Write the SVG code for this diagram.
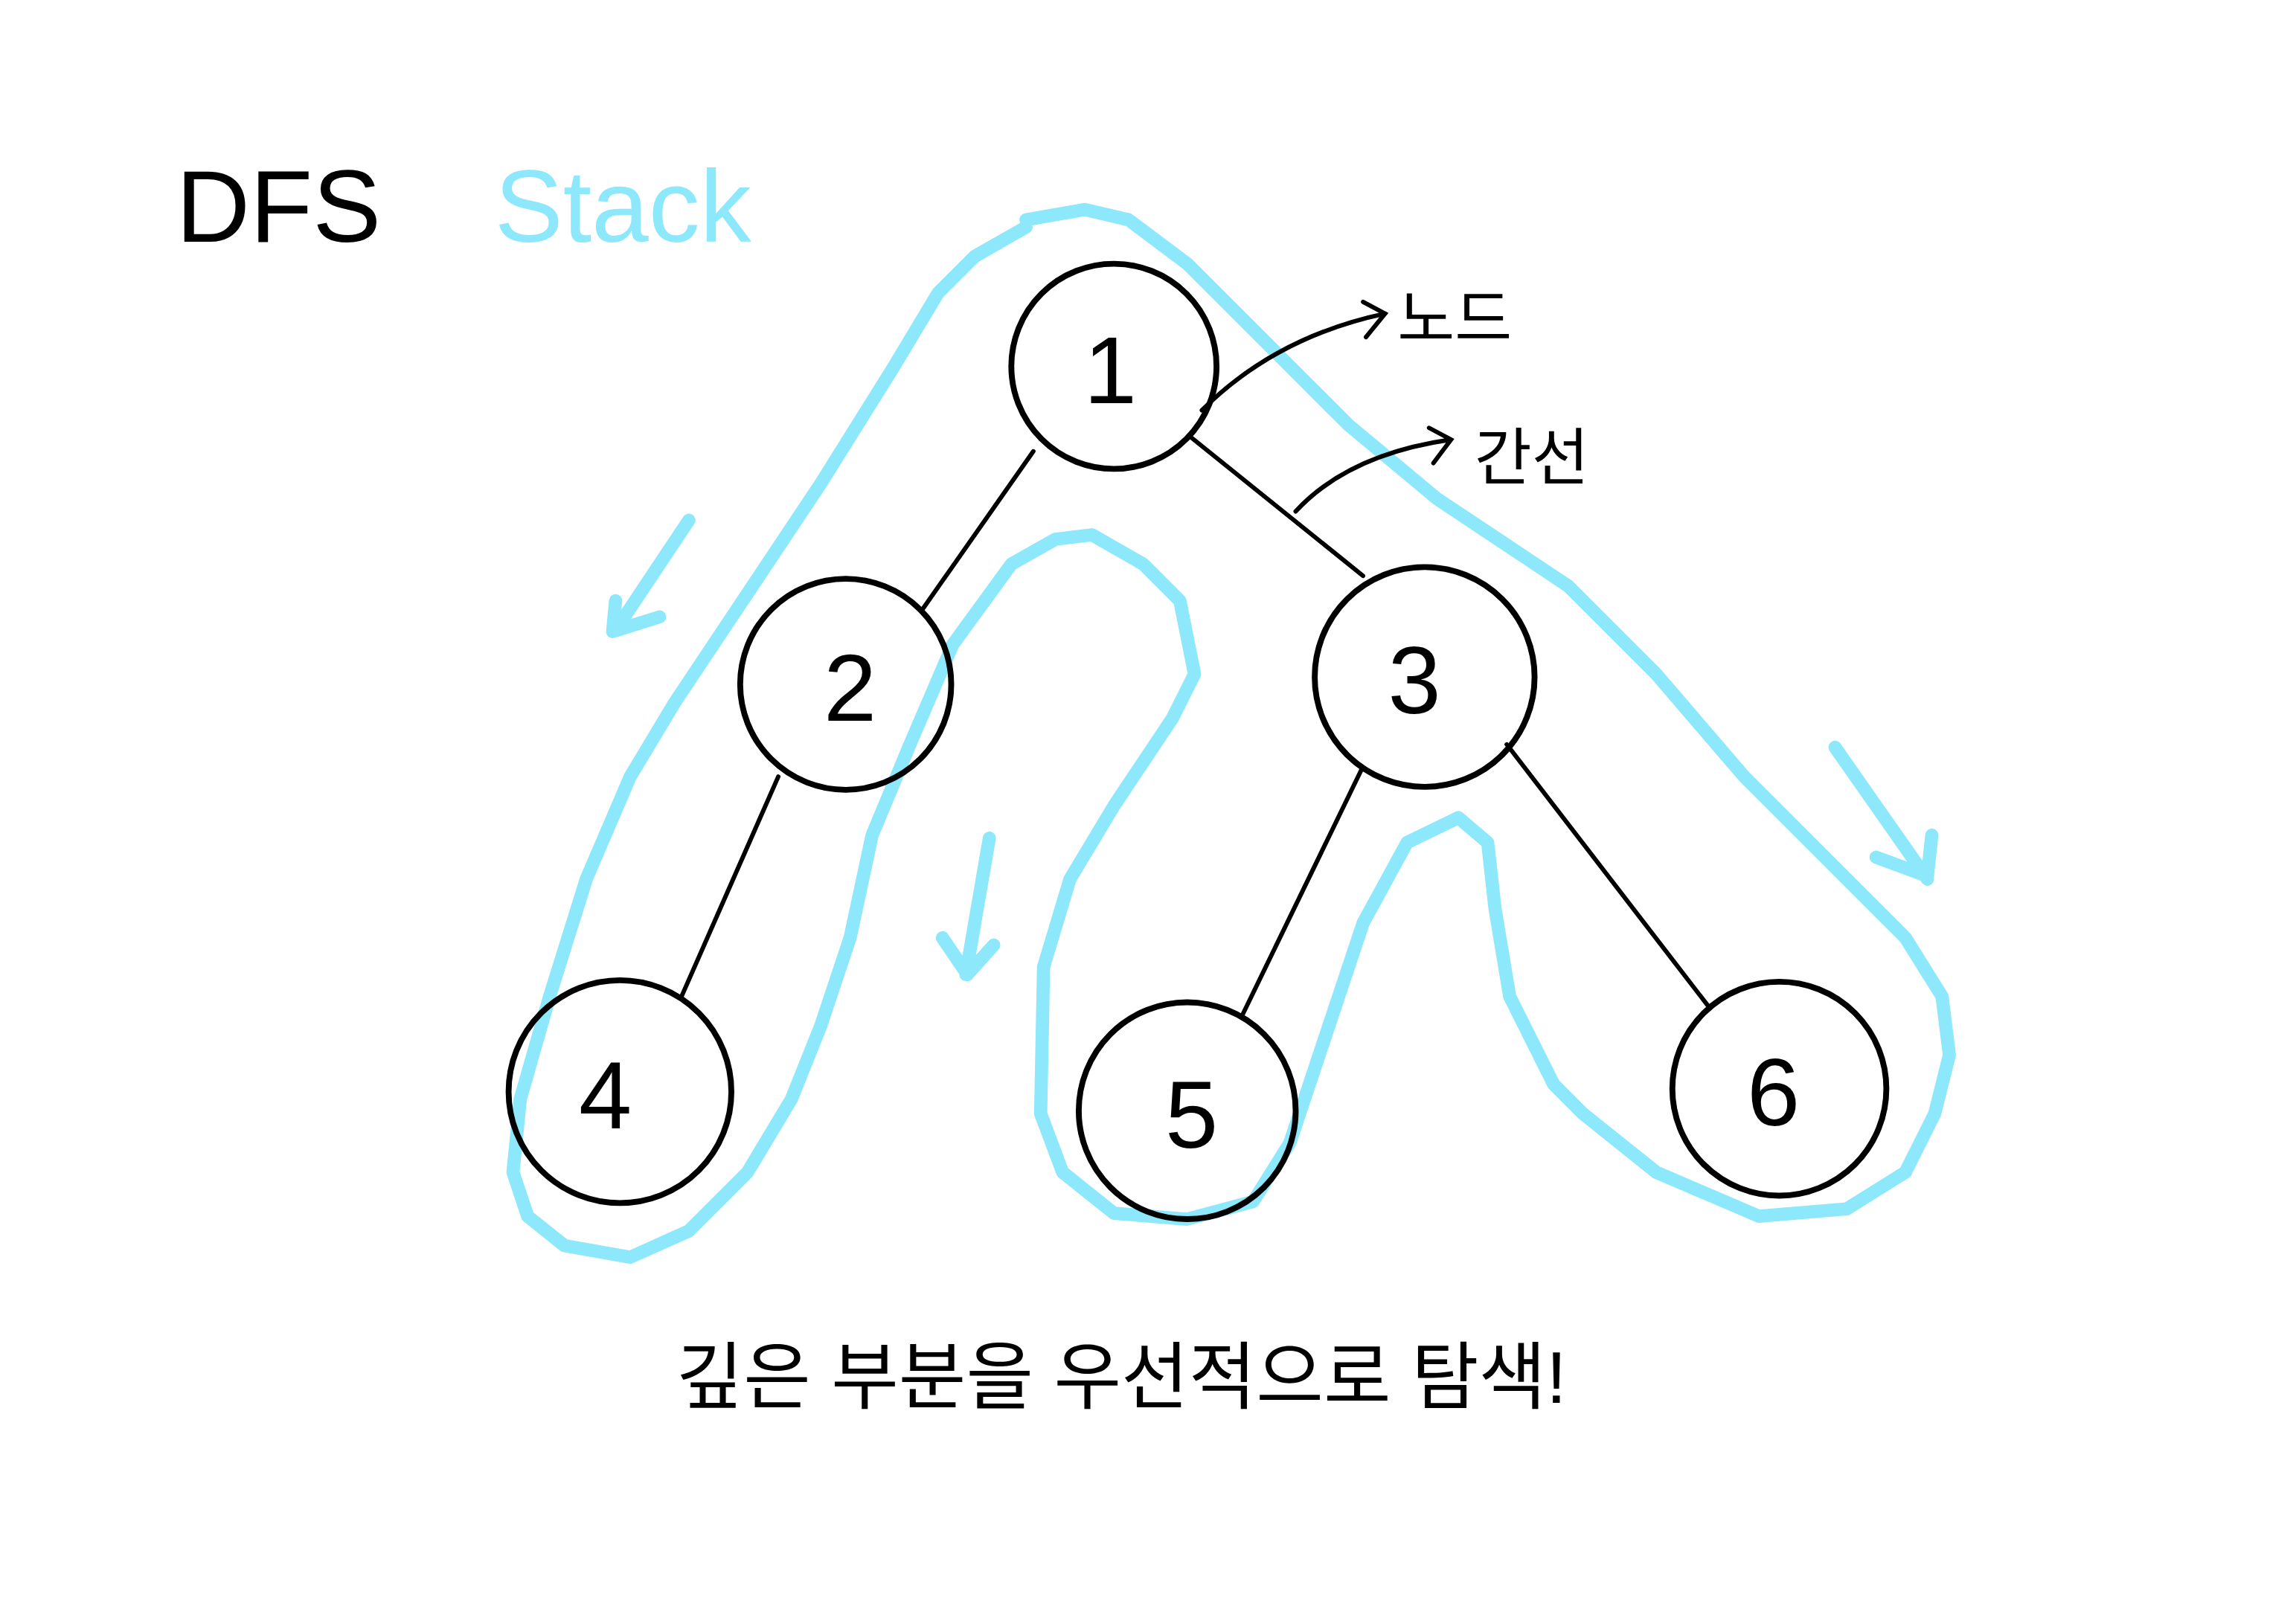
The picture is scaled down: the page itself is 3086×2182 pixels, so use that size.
<svg xmlns="http://www.w3.org/2000/svg" width="3086" height="2182" viewBox="0 0 3086 2182">
<style>
.n{fill:none;stroke:#000;stroke-width:8}
.e{stroke:#000;stroke-width:6;fill:none;stroke-linecap:round}
.c{fill:none;stroke:#8ee8fb;stroke-width:18;stroke-linecap:round;stroke-linejoin:round}
.t{font-family:"Liberation Sans","Noto Sans CJK KR",sans-serif;fill:#000;text-anchor:middle}
</style>
<rect width="3086" height="2182" fill="#fff"/>
<g transform="scale(0.985)">
<polyline class="c" points="1400,310 1330,350 1280,400 1220,500 1120,660 1000,840 920,960 860,1060 800,1200 750,1360 710,1500 700,1600 720,1660 770,1700 860,1716 940,1680 1020,1600 1080,1500 1120,1400 1160,1280 1190,1140 1240,1020 1300,880 1380,770 1440,736 1490,730 1560,770 1610,820 1630,920 1600,980 1520,1100 1460,1200 1424,1320 1420,1520 1450,1600 1520,1656 1620,1664 1710,1640 1760,1560 1800,1440 1860,1260 1920,1150 1990,1116 2030,1150 2040,1240 2060,1360 2120,1480 2160,1520 2260,1600 2400,1660 2520,1650 2600,1600 2640,1520 2660,1440 2650,1360 2600,1280 2500,1180 2380,1060 2260,920 2140,800 1960,680 1840,580 1720,460 1620,360 1540,300 1480,286 1400,300"/>
<g class="c"><path d="M940,710 L840,860 M840,820 L836,862 L900,842"/><path d="M1350,1144 L1318,1330 M1286,1280 L1320,1330 L1356,1290"/><path d="M2504,1020 L2630,1200 M2560,1170 L2630,1196 L2636,1140"/></g>
<text x="380" y="330" class="t" font-size="140">DFS</text>
<text x="850" y="330" class="t" font-size="140" style="fill:#8ee8fb">Stack</text>
<g id="connectors">
<path class="e" d="M1410,616 L1260,830"/><path class="e" d="M1624,596 L1860,786"/>
<path class="e" d="M1062,1060 L930,1360"/><path class="e" d="M1858,1050 L1696,1384"/>
<path class="e" d="M2056,1016 L2330,1372"/>
<path class="e" d="M1640,560 Q1740,460 1890,428 M1860,412 L1890,428 L1864,460"/>
<path class="e" d="M1768,698 Q1840,620 1980,600 M1950,584 L1980,600 L1956,632"/>
</g>
<g id="n1"><circle class="n" cx="1520" cy="500" r="140"/><text class="t" x="1515" y="550" font-size="130">1</text></g>
<g id="n2"><circle class="n" cx="1154" cy="934" r="144"/><text class="t" x="1160" y="984" font-size="130">2</text></g>
<g id="n3"><circle class="n" cx="1944" cy="924" r="150"/><text class="t" x="1930" y="974" font-size="130">3</text></g>
<g id="n4"><circle class="n" cx="846" cy="1490" r="152"/><text class="t" x="826" y="1540" font-size="130">4</text></g>
<g id="n5"><circle class="n" cx="1620" cy="1516" r="148"/><text class="t" x="1626" y="1566" font-size="130">5</text></g>
<g id="n6"><circle class="n" cx="2428" cy="1486" r="146"/><text class="t" x="2420" y="1536" font-size="130">6</text></g>
<text class="t" x="1985" y="465" font-size="85">노드</text>
<text class="t" x="2090" y="655" font-size="85">간선</text>
<text class="t" x="1530" y="1915" font-size="100">깊은 부분을 우선적으로 탐색!</text>
</g>
</svg>
